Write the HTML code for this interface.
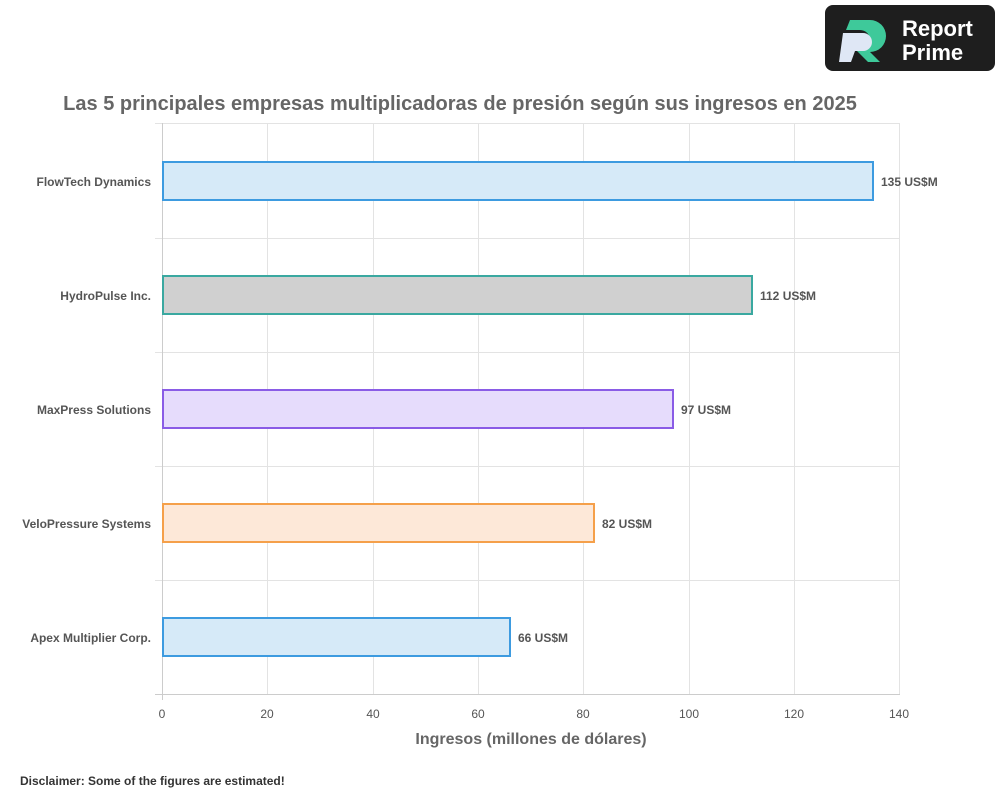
<!DOCTYPE html>
<html><head><meta charset="utf-8"><style>
body{margin:0;background:#fff;width:1000px;height:800px;overflow:hidden;font-family:"Liberation Sans",sans-serif}
</style></head><body>
<svg width="1000" height="800" xmlns="http://www.w3.org/2000/svg" font-family="Liberation Sans, sans-serif">
<rect width="1000" height="800" fill="#fff"/>
<!-- logo -->
<rect x="825" y="5" width="170" height="66" rx="8" fill="#1e1e1e"/>
<path d="M850 20 h20 a16 16 0 0 1 0 32 l10 10 h-12 l-12 -12 h4 a6 6 0 0 0 0 -20 h-14 z" fill="#3ec99a"/>
<path d="M843 33 h20 a9 9 0 0 1 0 18 h-8 l-4 11 h-12 z" fill="#dfe7f5"/>
<text x="902" y="36" font-size="22" font-weight="bold" fill="#fff">Report</text>
<text x="902" y="60" font-size="22" font-weight="bold" fill="#fff">Prime</text>
<!-- title -->
<text x="460" y="110" font-size="20" font-weight="bold" fill="#666" text-anchor="middle">Las 5 principales empresas multiplicadoras de presión según sus ingresos en 2025</text>
<!-- grid -->
<g stroke="#e3e3e3" stroke-width="1">
<line x1="267.5" y1="123" x2="267.5" y2="694"/><line x1="373.5" y1="123" x2="373.5" y2="694"/>
<line x1="478.5" y1="123" x2="478.5" y2="694"/><line x1="583.5" y1="123" x2="583.5" y2="694"/>
<line x1="689.5" y1="123" x2="689.5" y2="694"/><line x1="794.5" y1="123" x2="794.5" y2="694"/>
<line x1="899.5" y1="123" x2="899.5" y2="694"/>
<line x1="155" y1="123.5" x2="900" y2="123.5"/><line x1="155" y1="238.5" x2="900" y2="238.5"/>
<line x1="155" y1="352.5" x2="900" y2="352.5"/><line x1="155" y1="466.5" x2="900" y2="466.5"/>
<line x1="155" y1="580.5" x2="900" y2="580.5"/>
</g>
<line x1="162.5" y1="123" x2="162.5" y2="700" stroke="#ccc"/>
<line x1="155" y1="694.5" x2="900" y2="694.5" stroke="#ccc"/>
<!-- bars -->
<rect x="163" y="162" width="710" height="38" fill="#d6eaf8" stroke="#3d9be0" stroke-width="2"/>
<rect x="163" y="276" width="589" height="38" fill="#d0d0d0" stroke="#3aa8a0" stroke-width="2"/>
<rect x="163" y="390" width="510" height="38" fill="#e6dcfc" stroke="#8a5ce6" stroke-width="2"/>
<rect x="163" y="504" width="431" height="38" fill="#fde8d8" stroke="#f5a04a" stroke-width="2"/>
<rect x="163" y="618" width="347" height="38" fill="#d6eaf8" stroke="#3d9be0" stroke-width="2"/>
<g font-size="12" font-weight="bold" fill="#555">
<text x="881" y="186">135 US$M</text><text x="760" y="300">112 US$M</text>
<text x="681" y="414">97 US$M</text><text x="602" y="528">82 US$M</text><text x="518" y="642">66 US$M</text>
</g>
<g font-size="12" font-weight="bold" fill="#555" text-anchor="end">
<text x="151" y="186">FlowTech Dynamics</text><text x="151" y="300">HydroPulse Inc.</text>
<text x="151" y="414">MaxPress Solutions</text><text x="151" y="528">VeloPressure Systems</text>
<text x="151" y="642">Apex Multiplier Corp.</text>
</g>
<g font-size="12" fill="#555" text-anchor="middle">
<text x="162" y="718">0</text><text x="267" y="718">20</text><text x="373" y="718">40</text>
<text x="478" y="718">60</text><text x="583" y="718">80</text><text x="689" y="718">100</text>
<text x="794" y="718">120</text><text x="899" y="718">140</text>
</g>
<text x="531" y="744" font-size="16" font-weight="bold" fill="#666" text-anchor="middle">Ingresos (millones de dólares)</text>
<text x="20" y="785" font-size="12" font-weight="bold" fill="#333">Disclaimer: Some of the figures are estimated!</text>
</svg>
</body></html>
